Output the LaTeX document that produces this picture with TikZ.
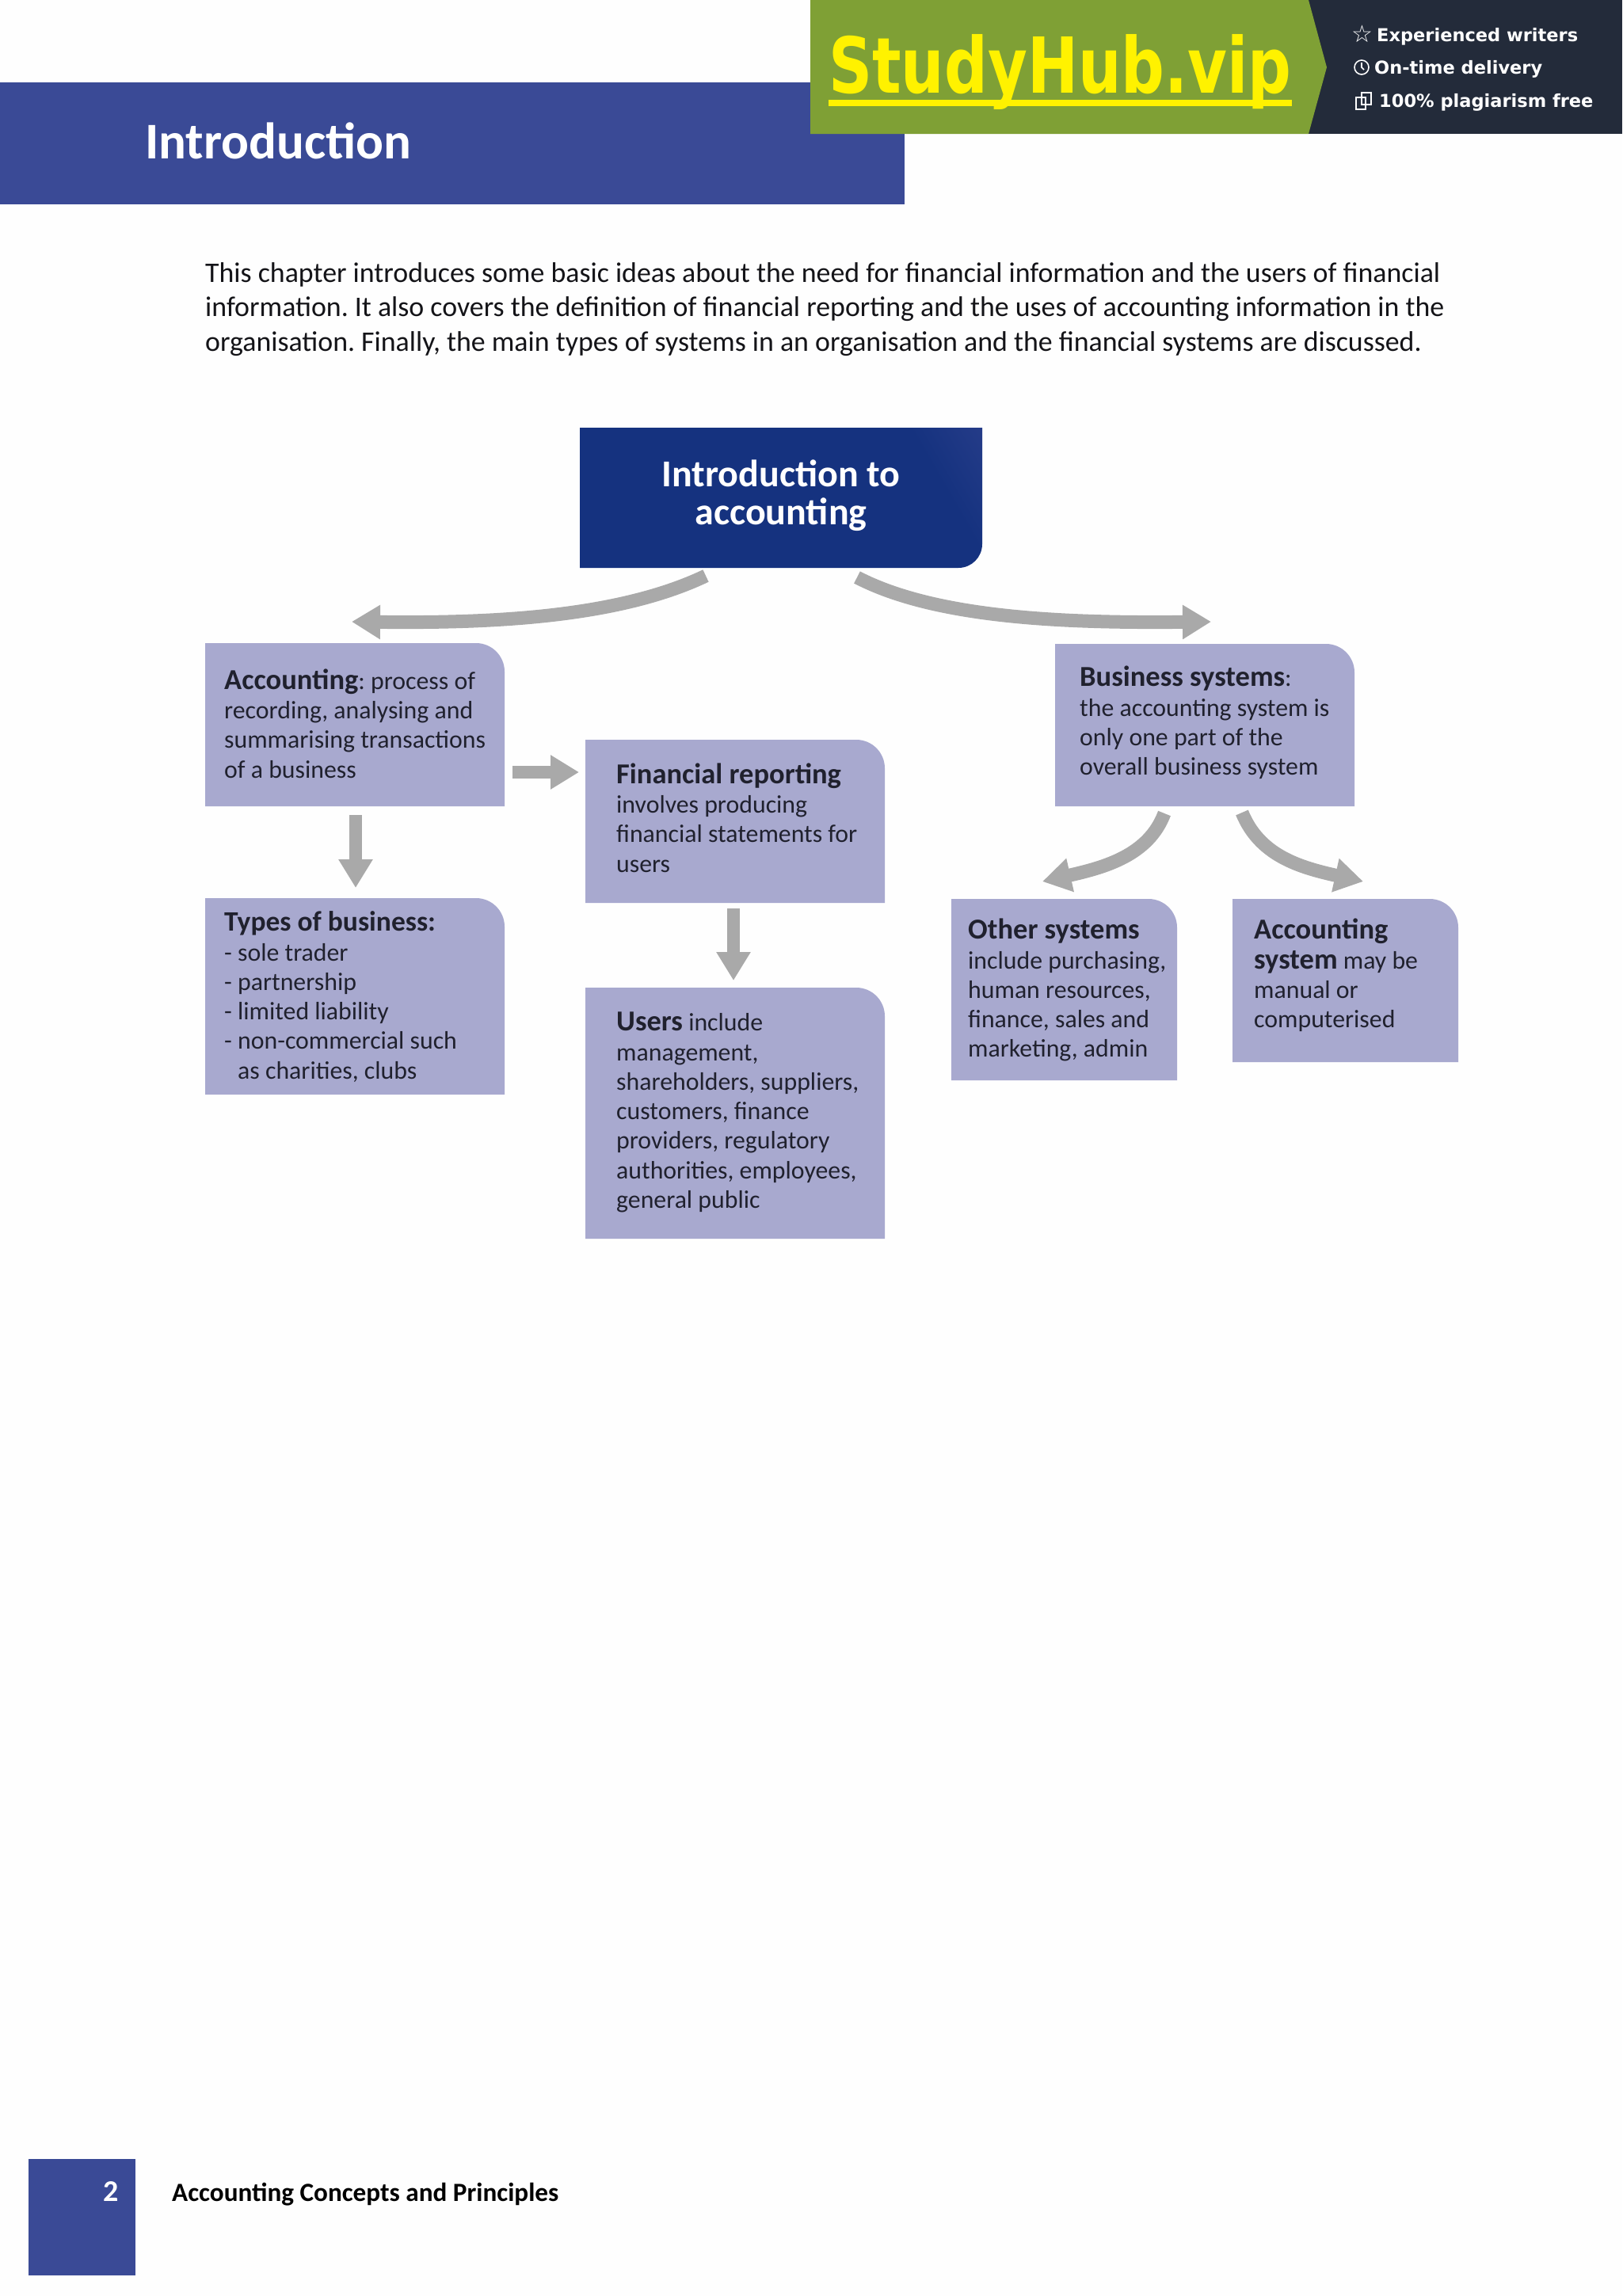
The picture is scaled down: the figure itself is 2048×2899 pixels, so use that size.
\documentclass[tikz,border=0pt]{standalone}
\usepackage{graphicx}
\usepackage{fontspec}
\setmainfont{Carlito}
\newfontfamily\dejab{DejaVu Sans}[BoldFont={DejaVu Sans Bold}]
\usetikzlibrary{arrows.meta}
\definecolor{bluehead}{HTML}{3A4A96}
\definecolor{rootdark}{HTML}{15327F}
\definecolor{rootlight}{HTML}{3C4A96}
\definecolor{boxfill}{HTML}{A8A9CF}
\definecolor{inktext}{HTML}{20212E}
\definecolor{bodyink}{HTML}{141418}
\definecolor{arrowgrey}{HTML}{A9A9A9}
\definecolor{bannergreen}{HTML}{7FA035}
\definecolor{bannerdark}{HTML}{232B3A}
\definecolor{banneryellow}{HTML}{FFF200}
\pgfdeclarehorizontalshading{rootshade}{100bp}{color(0bp)=(rootdark); color(74bp)=(rootdark); color(100bp)=(rootlight)}
\tikzset{
  boxtext/.style={anchor=north west,inner sep=0pt,align=left,text=inktext,font=\fontsize{31.8}{37.3}\selectfont},
  bodytext/.style={anchor=north west,inner sep=0pt,align=left,text=bodyink,font=\fontsize{35.85}{43.4}\selectfont},
  banneritem/.style={anchor=base west,inner sep=0pt,text=white,font=\dejab\bfseries\fontsize{22.5}{26}\selectfont},
  fatstraight/.style={arrowgrey,line width=16pt,-{Triangle[length=36pt,width=41pt]}},
  fatcurve/.style={arrowgrey,line width=17pt,-{Triangle[length=36pt,width=41pt]}},
}
\newcommand{\firstline}{\rule{0pt}{30pt}}
\newcommand{\bterm}[1]{{\fontsize{36.5}{37.3}\selectfont\bfseries #1}}
\newcommand{\btermsmall}[1]{{\fontsize{35.5}{37.3}\selectfont\bfseries #1}}
% name, left, top, right, bottom, text x, first baseline y, text
\newcommand{\pagebox}[8]{%
  \fill[boxfill] (#2,#3) [rounded corners=36pt] -- (#4,#3) [sharp corners] -- (#4,#5) -- (#2,#5) -- cycle;
  \node[boxtext] (#1) at (#6,#7-30) {\firstline#8};
}
\frenchspacing
\begin{document}
\begin{tikzpicture}[x=1pt,y=-1pt]
\useasboundingbox (0,0) rectangle (2048,2899);
\fill[white!99.6!black] (0,0) rectangle (2048,2899);
% header band
\fill[bluehead] (0,104) rectangle (1142,258);
\node[anchor=base west,inner sep=0pt,text=white,font=\bfseries\fontsize{65}{65}\selectfont] (title) at (183,200) {Introduction};
% banner
\fill[bannerdark] (1640,0) rectangle (2048,169);
\fill[bannergreen] (1023,0) -- (1652,0) -- (1675,85) -- (1652,169) -- (1023,169) -- cycle;
\node[anchor=base west,inner sep=0pt,text=banneryellow] (brand) at (1046,117) {\resizebox{584pt}{74pt}{\dejab\bfseries StudyHub.vip}};
\fill[banneryellow] (brand.west |- 0,126) rectangle (brand.east |- 0,134);
\node[anchor=base west,inner sep=0pt,text=white,font=\dejab\fontsize{30}{30}\selectfont] (star) at (1706,53) {☆};
\node[banneritem] (w1) at (1738,52) {Experienced writers};
\node[banneritem] (w2) at (1735,93) {On-time delivery};
\node[banneritem] (w3) at (1741,135) {100\% plagiarism free};
\draw[white,line width=1.6pt] (1719,85) circle (9pt);
\draw[white,line width=1.6pt] (1719,79) -- (1719,85) -- (1722,88);
\draw[white,line width=1.6pt] (1719,117) rectangle (1731,132);
\draw[white,line width=1.6pt] (1712,123) rectangle (1724,138);
% intro text
\node[bodytext] (intro) at (259,326) {\firstline This chapter introduces some basic ideas about the need for financial information and the users of financial\\
information. It also covers the definition of financial reporting and the uses of accounting information in the\\
organisation. Finally, the main types of systems in an organisation and the financial systems are discussed.};
% root
\shade[shading=rootshade,shading angle=30] (732,540) -- (1240,540) [rounded corners=30pt] -- (1240,717) [sharp corners] -- (732,717) -- cycle;
\node[anchor=north,inner sep=0pt,align=center,text=white,font=\bfseries\fontsize{48}{48}\selectfont] (root) at (986,581) {\rule{0pt}{30pt}Introduction to\\accounting};
% boxes
\pagebox{acc}{259}{812}{637}{1018}{283}{870}{\bterm{Accounting}: process of\\recording, analysing and\\summarising transactions\\of a business}
\pagebox{fin}{739}{934}{1117}{1140}{778}{989}{\bterm{Financial reporting}\\involves producing\\financial statements for\\users}
\pagebox{typ}{259}{1134}{637}{1382}{283}{1175.5}{\btermsmall{Types of business:}\\- sole trader\\- partnership\\- limited liability\\- non-commercial such\\\hspace*{17pt}as charities, clubs}
\pagebox{usr}{739}{1247}{1117}{1564}{778}{1301.5}{\bterm{Users} include\\management,\\shareholders, suppliers,\\customers, finance\\providers, regulatory\\authorities, employees,\\general public}
\pagebox{bus}{1332}{813}{1710}{1018}{1363}{866.5}{\bterm{Business systems}:\\the accounting system is\\only one part of the\\overall business system}
\pagebox{oth}{1201}{1135}{1486}{1364}{1222}{1185.5}{\bterm{Other systems}\\include purchasing,\\human resources,\\finance, sales and\\marketing, admin}
\pagebox{sys}{1556}{1135}{1841}{1341}{1583}{1185.5}{\bterm{Accounting}\\\bterm{system} may be\\manual or\\computerised}
% connector ends
\coordinate (rootL) at (891,727);
\coordinate (accTip) at (444,785);
\coordinate (rootR) at (1082,729);
\coordinate (busTip) at (1529,785);
\coordinate (accS) at (449,1029);
\coordinate (typN) at (449,1121);
\coordinate (accE) at (647,975);
\coordinate (finW) at (731,975);
\coordinate (finS) at (926,1147);
\coordinate (usrN) at (926,1238);
\coordinate (busL) at (1470,1027);
\coordinate (othTip) at (1316,1113);
\coordinate (busR) at (1568,1026);
\coordinate (sysTip) at (1721,1113);
% connectors
\draw[fatcurve] (rootL) .. controls (780,780) and (620,787) .. (accTip);
\draw[fatcurve] (rootR) .. controls (1180,780) and (1340,787) .. (busTip);
\draw[fatstraight] (accS) -- (typN);
\draw[fatstraight] (accE) -- (finW);
\draw[fatstraight] (finS) -- (usrN);
\draw[fatcurve] (busL) .. controls (1450,1080) and (1395,1095) .. (othTip);
\draw[fatcurve] (busR) .. controls (1590,1080) and (1640,1095) .. (sysTip);
% footer
\fill[bluehead] (36,2726) rectangle (171,2873);
\node[anchor=base,inner sep=0pt,text=white,font=\bfseries\fontsize{38}{38}\selectfont] (pageno) at (140,2779) {2};
\node[anchor=base west,inner sep=0pt,text=black,font=\bfseries\fontsize{33.2}{33.2}\selectfont] (foot) at (217,2779) {Accounting Concepts and Principles};
\end{tikzpicture}
\end{document}
